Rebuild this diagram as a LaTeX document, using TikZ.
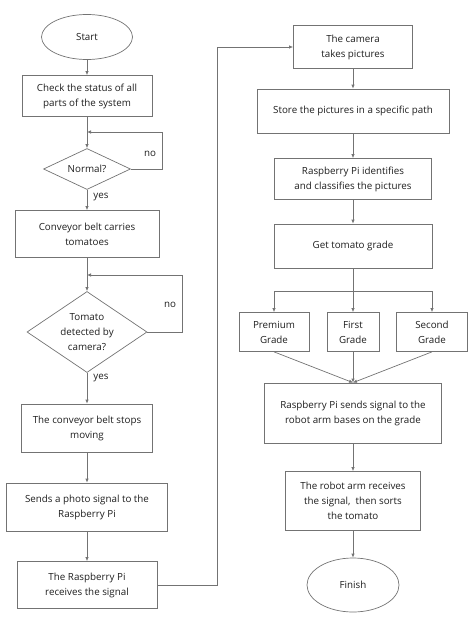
\documentclass[tikz,border=0pt]{standalone}
\usepackage{fontspec}
\setmainfont{Open Sans}
\usepackage{xcolor}
\usetikzlibrary{shapes.geometric,arrows.meta,positioning,calc}

\definecolor{linegray}{RGB}{115,115,115}
\definecolor{textgray}{RGB}{30,30,30}

\tikzset{
    box/.style={draw=linegray, line width=0.7pt, rectangle, align=center, inner sep=2pt,
        font=\fontsize{9.8}{15}\selectfont, text=textgray},
    term/.style={box, ellipse},
    decision/.style={box, diamond, inner sep=0pt, aspect=2},
    flow/.style={draw=linegray, line width=0.7pt, -{Latex[length=4pt,width=3.5pt]}},
    link/.style={draw=linegray, line width=0.7pt},
    tag/.style={font=\fontsize{9.8}{15}\selectfont, text=textgray}
}

\begin{document}
\begin{tikzpicture}[x=1pt,y=-1pt]
    \useasboundingbox (0,0) rectangle (474,618);

    % left column
    \node[term, minimum width=91pt, minimum height=45pt] (start) at (87,37) {Start};
    \node[box, minimum width=130pt, minimum height=41pt] (check) at (87,96) {Check the status of all\\parts of the system};
    \node[decision, minimum width=87pt, minimum height=41pt] (normal) at (87,169) {Normal?};
    \node[box, minimum width=144pt, minimum height=47pt] (belt) at (87,234) {Conveyor belt carries\\tomatoes};
    \node[decision, aspect=1.5, minimum width=120pt, minimum height=81pt] (detect) at (87,332) {Tomato\\detected by\\camera?};
    \node[box, minimum width=131pt, minimum height=48pt] (stop) at (87,428) {The conveyor belt stops\\moving};
    \node[box, minimum width=161pt, minimum height=48pt] (photo) at (87,507) {Sends a photo signal to the\\Raspberry Pi};
    \node[box, minimum width=140pt, minimum height=47pt] (receive) at (87,585) {The Raspberry Pi\\receives the signal};

    % right column
    \node[box, minimum width=119pt, minimum height=43pt] (camera) at (353,47) {The camera\\takes pictures};
    \node[box, minimum width=192pt, minimum height=44pt] (store) at (353,111) {Store the pictures in a specific path};
    \node[box, minimum width=157pt, minimum height=41pt] (identify) at (353,179) {Raspberry Pi identifies\\and classifies the pictures};
    \node[box, minimum width=158pt, minimum height=44pt] (grade) at (353,246) {Get tomato grade};
    \node[box, minimum width=70pt, minimum height=39pt] (premium) at (274,332) {Premium\\Grade};
    \node[box, minimum width=52pt, minimum height=39pt] (first) at (353,332) {First\\Grade};
    \node[box, minimum width=71pt, minimum height=39pt] (second) at (432,332) {Second\\Grade};
    \node[box, minimum width=177pt, minimum height=60pt] (signal) at (353,413) {Raspberry Pi sends signal to the\\robot arm bases on the grade};
    \node[box, minimum width=135pt, minimum height=59pt] (robot) at (353,501) {The robot arm receives\\the signal,~ then sorts\\the tomato};
    \node[term, minimum width=92pt, minimum height=54pt] (finish) at (353,585) {Finish};

    % connectors, left
    \draw[flow] (start) -- (check);
    \draw[flow] (check) -- (normal);
    \coordinate (normalback) at (87,132);
    \draw[flow] (normal.east) -| (162,132) -- (normalback);
    \node[tag] (normalno) at (150,154) {no};
    \draw[flow] (normal) -- (belt);
    \node[tag] (normalyes) at (101,197) {yes};
    \draw[flow] (belt) -- (detect);
    \coordinate (detectback) at (87,275);
    \draw[flow] (detect.east) -| (182,275) -- (detectback);
    \node[tag] (detectno) at (170,305) {no};
    \draw[flow] (detect) -- (stop);
    \node[tag] (detectyes) at (101,378) {yes};
    \draw[flow] (stop) -- (photo);
    \draw[flow] (photo) -- (receive);
    \draw[flow] (receive.east) -- ++(60,0) |- (camera.west);

    % connectors, right
    \draw[flow] (camera) -- (store);
    \draw[flow] (store) -- (identify);
    \draw[flow] (identify) -- (grade);
    \coordinate (split) at (353,291);
    \draw[link] (grade) -- (split);
    \draw[flow] (split) -| (premium);
    \draw[flow] (split) -- (first);
    \draw[flow] (split) -| (second);
    \coordinate (merge) at (signal.north);
    \draw[flow] (premium.south) -- (merge);
    \draw[flow] (first.south) -- (merge);
    \draw[flow] (second.south) -- (merge);
    \draw[flow] (signal) -- (robot);
    \draw[flow] (robot) -- (finish);
\end{tikzpicture}
\end{document}
